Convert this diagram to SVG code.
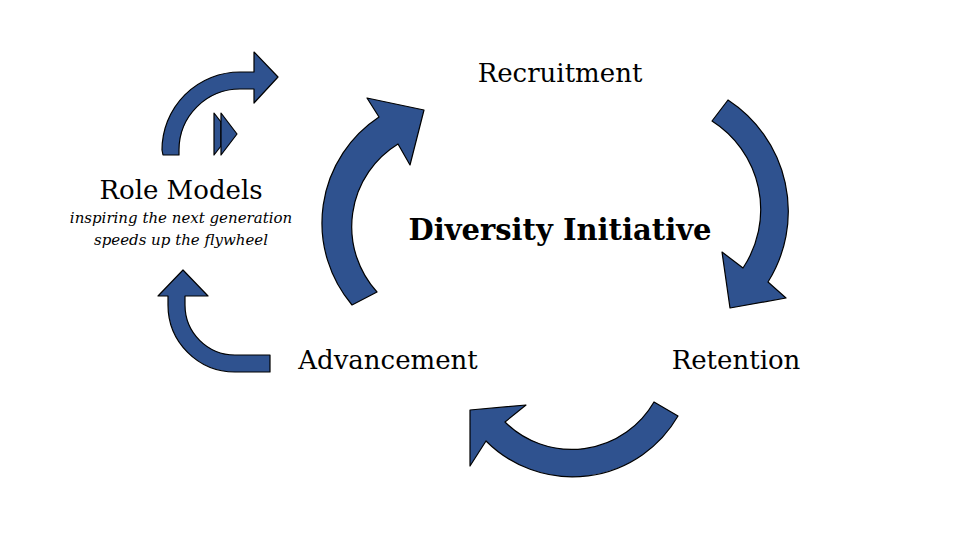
<svg xmlns="http://www.w3.org/2000/svg" width="960" height="540" viewBox="0 0 960 540">
<style>
.a{fill:#2f528f;stroke:#000;stroke-width:1.2;stroke-linejoin:round}
.t{font-family:"DejaVu Serif","Liberation Serif",serif;fill:#000}
</style>
<rect width="960" height="540" fill="#fff"/>
<g id="connectors">
<path class="a" d="M728,100 A133 133 0 0 1 768,282 L786,298 L730,308 L722,252 L743,268 A105 105 0 0 0 712,121 Z"/>
<path class="a" d="M678,416 A122 122 0 0 1 486,441 L470,466 L470,410 L526,405 L505,422 A95 95 0 0 0 654,402 Z"/>
<path class="a" d="M352,305 A127 127 0 0 1 379,117 L367,98 L424,110 L410,165 L398,144 A97 97 0 0 0 377,292 Z"/>
<path class="a" d="M270,372 L235,372 A67 67 0 0 1 168,305 L168,296 L158,296 L183,270 L208,296 L185,296 L185,305 A50 50 0 0 0 235,355 L270,355 Z"/>
<path class="a" d="M163,155 L162,150 A78 78 0 0 1 240,72 L254,72 L254,52 L278,77 L254,103 L254,89 L240,89 A61 61 0 0 0 179,150 L179,155 Z"/>
<path class="a" d="M214,113 L221,122 L221,146 L214,155 Z"/>
<path class="a" d="M221,113 L237,134 L221,155 Z"/>
</g>
<g id="center"><text class="t" x="560" y="240" text-anchor="middle" font-size="29" font-weight="bold">Diversity Initiative</text></g>
<g id="recruitment"><text class="t" x="560" y="82" text-anchor="middle" font-size="26">Recruitment</text></g>
<g id="retention"><text class="t" x="736" y="369" text-anchor="middle" font-size="26">Retention</text></g>
<g id="advancement"><text class="t" x="388" y="369" text-anchor="middle" font-size="26">Advancement</text></g>
<g id="role-models">
<text class="t" x="181" y="199" text-anchor="middle" font-size="26">Role Models</text>
<text class="t" x="181" y="223" text-anchor="middle" font-size="15" font-style="italic">inspiring the next generation</text>
<text class="t" x="181" y="245" text-anchor="middle" font-size="15" font-style="italic">speeds up the flywheel</text>
</g>
</svg>
